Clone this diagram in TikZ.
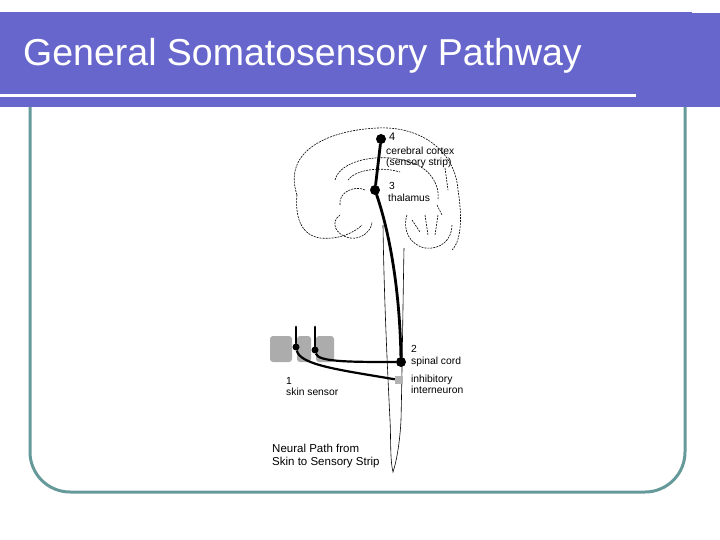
\documentclass[tikz,border=0pt]{standalone}
\usepackage{fontspec}
\setmainfont{Liberation Sans}
\begin{document}
\begin{tikzpicture}[x=1pt,y=-1pt,
  lbl/.style={font=\fontsize{10.3}{11}\selectfont, anchor=west, inner sep=0pt, align=left},
  neuron/.style={circle, fill=black, minimum size=10pt, inner sep=0pt},
  smallneuron/.style={circle, fill=black, minimum size=7pt, inner sep=0pt},
  nerve/.style={line width=2.8pt, line cap=round},
  outline/.style={line width=0.6pt, dash pattern=on 2pt off 1pt},
  skin/.style={fill=gray!65, rounded corners=3pt, draw=none}]
\useasboundingbox (0,0) rectangle (720,540);
\definecolor{hdr}{HTML}{6666CC}
\definecolor{frm}{HTML}{669999}
% header
\fill[hdr] (0,12) rectangle (692,107);
\fill[hdr] (632,13) rectangle (720,107);
\fill[white] (0,94) rectangle (636,97);
\node[anchor=west, text=white, font=\fontsize{37.5}{40}\selectfont, inner sep=0pt] (title) at (23,56) {General Somatosensory Pathway};
% frame
\draw[frm, line width=3pt, rounded corners=40pt] (30,107) -- (30,492) -- (685,492) -- (685,107);
% picture background
\fill[white] (233,120) rectangle (466,478);
% brain outline
\draw[outline] (297,195) .. controls (282,150) and (330,130) .. (378,128) .. controls (420,126) and (455,150) .. (458,190) .. controls (462,215) and (462,240) .. (452,250);
\draw[outline] (297,195) .. controls (295,215) and (300,235) .. (320,238) .. controls (340,240) and (355,232) .. (362,225);
\draw[outline] (335,180) .. controls (340,160) and (380,152) .. (410,162) .. controls (430,168) and (440,185) .. (438,200);
\draw[outline] (348,180) .. controls (355,170) and (380,166) .. (400,172);
\draw[outline] (340,205) .. controls (338,192) and (355,185) .. (365,190);
\draw[outline] (340,215) .. controls (330,222) and (335,235) .. (350,238) .. controls (362,240) and (372,230) .. (372,222);
\draw[outline] (407,215) .. controls (402,230) and (410,245) .. (425,248) .. controls (440,250) and (452,240) .. (452,225);
\draw[outline] (412,220) -- (420,232) (425,215) -- (428,235) (438,215) -- (435,235);
\draw[outline] (445,168) -- (448,190) (437,205) -- (442,215);
% spinal cord outline
\draw[line width=0.6pt] (383,225) .. controls (384,300) and (388,380) .. (390,420) .. controls (391,440) and (390,460) .. (393,472) .. controls (397,460) and (400,440) .. (401,420) .. controls (402,380) and (403,300) .. (404,248);
% skin
\fill[skin] (270,336) rectangle (292,362);
\fill[skin] (297,336) rectangle (311,362);
\fill[skin] (316,336) rectangle (334,362);
% neurons
\node[neuron] (n4) at (381,139) {};
\node[neuron] (n3) at (375,190) {};
\node[neuron] (n2) at (401,362) {};
\node[rectangle, fill=gray!60, minimum size=8pt, inner sep=0pt] (ni) at (399,380) {};
\node[smallneuron] (s1) at (296,347) {};
\node[smallneuron] (s2) at (315,350) {};
\coordinate (t1) at (296,327);
\coordinate (t2) at (315,327);
% nerves
\draw[nerve] (n4) -- (n3);
\draw[nerve] (n3) .. controls (392,240) and (400,300) .. (n2);
\draw[nerve] (t1) -- (s1);
\draw[nerve] (t2) -- (s2);
\draw[line width=2.2pt] (s1) .. controls (300,365) and (340,370) .. (ni);
\draw[line width=2.2pt] (s2) .. controls (318,362) and (350,362) .. (n2);
% labels
\node[lbl, font=\fontsize{11}{12}\selectfont] (l4) at (389,137) {4};
\node[lbl] (l4t) at (386,157) {cerebral cortex\\(sensory strip)};
\node[lbl] (l3) at (389,186) {3};
\node[lbl] (l3t) at (388,198) {thalamus};
\node[lbl] (l2) at (411,349) {2};
\node[lbl] (l2t) at (411,362) {spinal cord};
\node[lbl] (lit) at (411,384) {inhibitory\\interneuron};
\node[lbl] (l1) at (286,381) {1};
\node[lbl] (l1t) at (286,392) {skin sensor};
\node[lbl, font=\fontsize{11.5}{12.5}\selectfont] (cap) at (272,456) {Neural Path from\\Skin to Sensory Strip};
\end{tikzpicture}
\end{document}
